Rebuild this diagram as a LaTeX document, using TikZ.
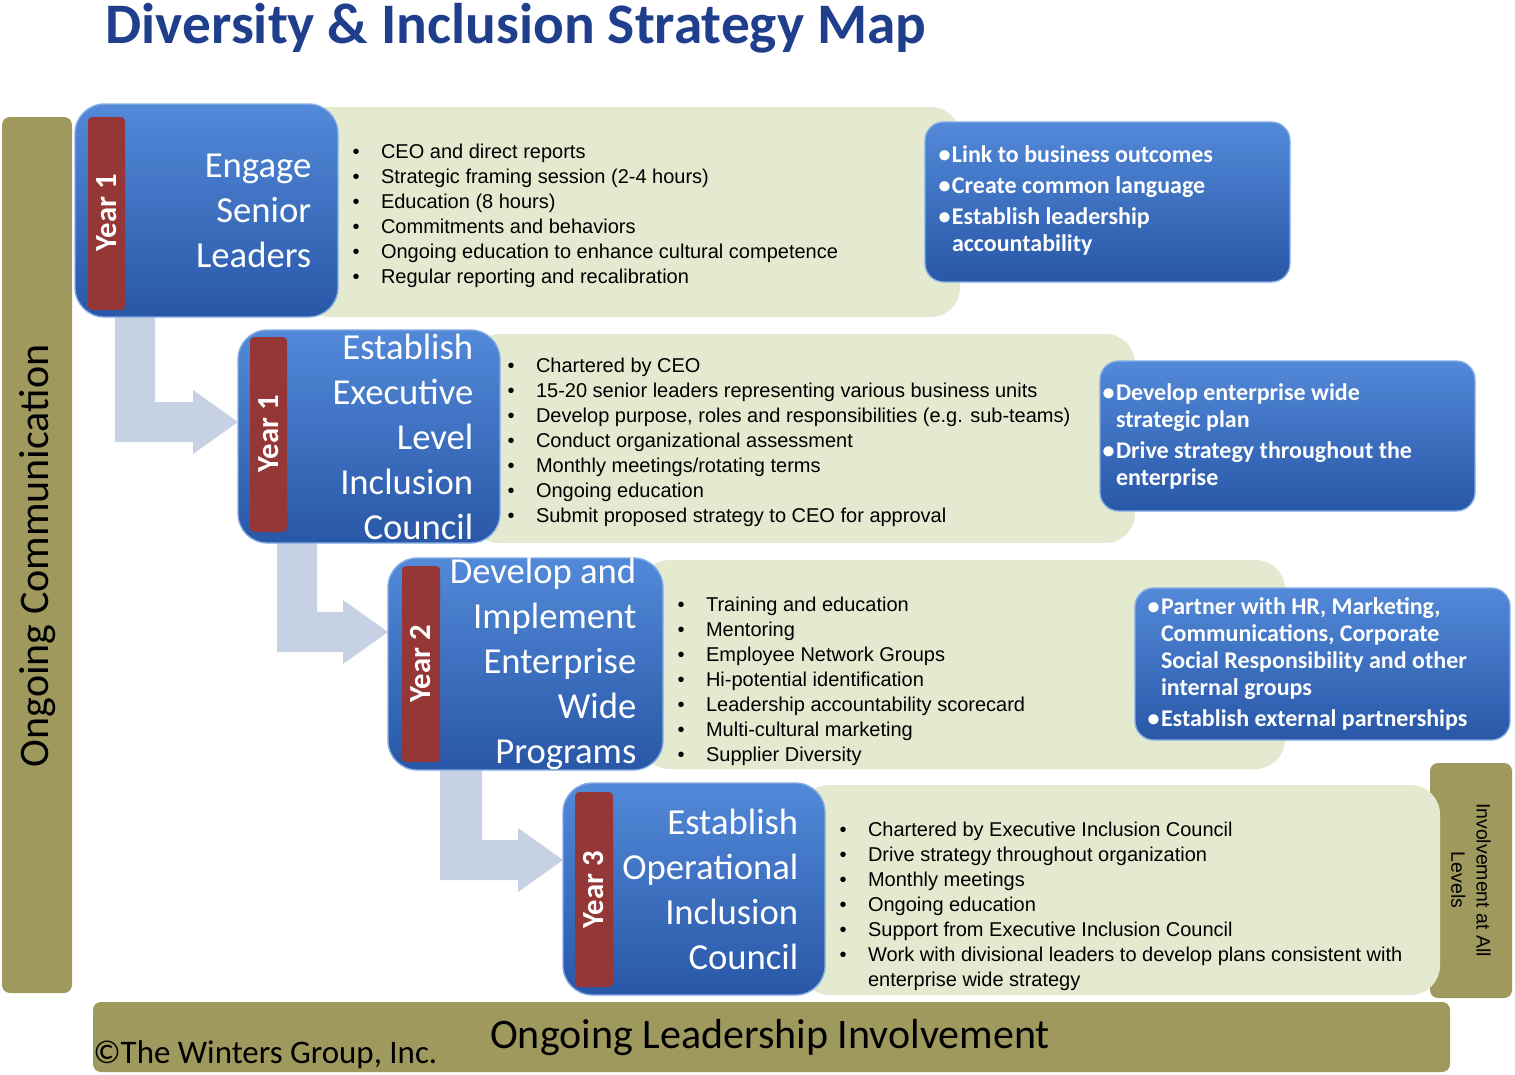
\documentclass[tikz,border=0pt]{standalone}
\usepackage{fontspec}
\setmainfont{Liberation Sans}
\newfontfamily\calfont{Carlito}
\definecolor{olive}{HTML}{A0995E}
\definecolor{pgreen}{HTML}{E3EACF}
\definecolor{btop}{HTML}{5289D8}
\definecolor{bbot}{HTML}{2957A8}
\definecolor{yred}{HTML}{953737}
\definecolor{arr}{HTML}{C6D1E4}
\definecolor{ttl}{HTML}{1F3E8C}
\newcommand{\larrow}[5]{\fill[arr] (#1,#3) -- (#2,#3) -- (#2,#4-20) -- (#5-45,#4-20) -- (#5-45,#4-32) -- (#5,#4) -- (#5-45,#4+32) -- (#5-45,#4+20) -- (#1,#4+20) -- cycle;}
\begin{document}
\begin{tikzpicture}[x=0.75pt,y=-0.75pt,
  panel/.style={fill=pgreen,rounded corners=22pt},
  bbox/.style={top color=btop,bottom color=bbot,draw=btop!70!white,line width=1pt,rounded corners=22pt},
  rbox/.style={top color=btop,bottom color=bbot,draw=btop!70!white,line width=1pt,rounded corners=14pt},
  yr/.style={fill=yred,rounded corners=3pt},
  yt/.style={rotate=90,text=white,font=\calfont\bfseries\fontsize{23}{24}\selectfont},
  btitle/.style={anchor=east,align=right,text=white,font=\calfont\fontsize{27.5}{33.8}\selectfont},
  blist/.style={anchor=north west,align=left,font=\fontsize{15}{18.75}\selectfont},
  rtext/.style={anchor=north west,align=left,text=white,font=\calfont\bfseries\fontsize{18}{20.3}\selectfont},
  olv/.style={fill=olive,rounded corners=6pt}]
\useasboundingbox (0,0) rectangle (1515,1074);
\node[anchor=west,text=ttl,font=\calfont\bfseries\fontsize{43}{46}\selectfont] (title) at (101,28) {Diversity \& Inclusion Strategy Map};
% olive bars
\fill[olv] (2,117) rectangle (72,993);
\node[rotate=90,font=\calfont\fontsize{31.5}{34}\selectfont] (oc) at (38,556) {Ongoing Communication};
\fill[olv] (93,1002) rectangle (1450,1072);
\node[font=\calfont\fontsize{31.5}{34}\selectfont] (oli) at (770,1038) {Ongoing Leadership Involvement};
\node[anchor=west,inner sep=0,font=\calfont\fontsize{24.7}{27}\selectfont] (copy) at (93,1055) {©The Winters Group, Inc.};
\fill[olv] (1430,763) rectangle (1512,998);
\node[rotate=-90,align=center,font=\fontsize{14.6}{19}\selectfont] (inv) at (1471,880) {Involvement at All\\Levels};
% panels
\fill[panel] (300,107) rectangle (960,317);
\fill[panel] (470,334) rectangle (1135,543);
\fill[panel] (640,560) rectangle (1285,769);
\fill[panel] (800,785) rectangle (1440,995);
% arrows
\larrow{115}{155}{317}{422}{238}
\larrow{277}{317}{543}{632}{388}
\larrow{440}{482}{770}{860}{563}
% blue boxes
\draw[bbox] (75,104) rectangle (338,317);
\draw[bbox] (238,330) rectangle (500,543);
\draw[bbox] (388,558) rectangle (663,770);
\draw[bbox] (563,783) rectangle (825,995);
\fill[yr] (88,117) rectangle (125,310);
\fill[yr] (250,337) rectangle (287,532);
\fill[yr] (402,566) rectangle (440,762);
\fill[yr] (575,792) rectangle (613,987);
\node[yt] (y1) at (107,213) {Year 1};
\node[yt] (y2) at (269,434) {Year 1};
\node[yt] (y3) at (421,664) {Year 2};
\node[yt] (y4) at (594,890) {Year 3};
\node[btitle] (t1) at (316,211) {Engage\\Senior\\Leaders};
\node[btitle] (t2) at (478,437) {Establish\\Executive\\Level\\Inclusion\\Council};
\node[btitle] (t3) at (641,664) {Develop and\\Implement\\Enterprise\\Wide\\Programs};
\node[btitle] (t4) at (803,889) {Establish\\Operational\\Inclusion\\Council};
% lists
\node[blist] (l1) at (348,136) {\begin{tabular}{@{}l@{\hskip 16pt}l@{}}
•&CEO and direct reports\\
•&Strategic framing session (2-4 hours)\\
•&Education (8 hours)\\
•&Commitments and behaviors\\
•&Ongoing education to enhance cultural competence\\
•&Regular reporting and recalibration\end{tabular}};
\node[blist] (l2) at (503,350) {\begin{tabular}{@{}l@{\hskip 16pt}l@{}}
•&Chartered by CEO\\
•&15-20 senior leaders representing various business units\\
•&Develop purpose, roles and responsibilities (e.g. sub-teams)\\
•&Conduct organizational assessment\\
•&Monthly meetings/rotating terms\\
•&Ongoing education\\
•&Submit proposed strategy to CEO for approval\end{tabular}};
\node[blist] (l3) at (673,589) {\begin{tabular}{@{}l@{\hskip 16pt}l@{}}
•&Training and education\\
•&Mentoring\\
•&Employee Network Groups\\
•&Hi-potential identification\\
•&Leadership accountability scorecard\\
•&Multi-cultural marketing\\
•&Supplier Diversity\end{tabular}};
\node[blist] (l4) at (835,814) {\begin{tabular}{@{}l@{\hskip 16pt}l@{}}
•&Chartered by Executive Inclusion Council\\
•&Drive strategy throughout organization\\
•&Monthly meetings\\
•&Ongoing education\\
•&Support from Executive Inclusion Council\\
•&Work with divisional leaders to develop plans consistent with\\
&enterprise wide strategy\end{tabular}};
% right boxes
\draw[rbox] (925,122) rectangle (1290,282);
\draw[rbox] (1100,361) rectangle (1475,511);
\draw[rbox] (1135,588) rectangle (1510,740);
\node[rtext] (r1) at (934,139) {\begin{tabular}{@{}l@{\hskip 1pt}l@{}}
•&Link to business outcomes\\[3pt]
•&Create common language\\[3pt]
•&Establish leadership\\
&accountability\end{tabular}};
\node[rtext] (r2) at (1098,377) {\begin{tabular}{@{}l@{\hskip 1pt}l@{}}
•&Develop enterprise wide\\
&strategic plan\\[3pt]
•&Drive strategy throughout the\\
&enterprise\end{tabular}};
\node[rtext] (r3) at (1143,591) {\begin{tabular}{@{}l@{\hskip 1pt}l@{}}
•&Partner with HR, Marketing,\\
&Communications, Corporate\\
&Social Responsibility and other\\
&internal groups\\[3pt]
•&Establish external partnerships\end{tabular}};
\end{tikzpicture}
\end{document}
